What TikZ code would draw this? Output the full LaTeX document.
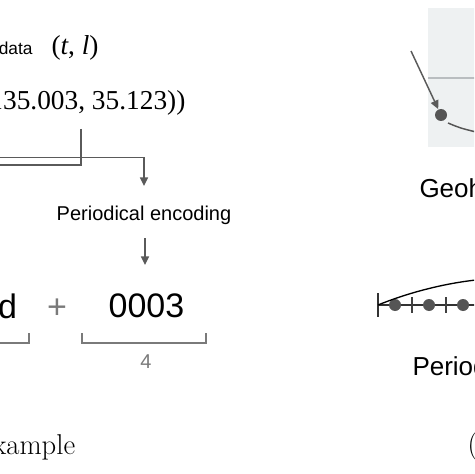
\documentclass[tikz,border=0pt]{standalone}
\usepackage{fontspec}
\newfontfamily\helv{Liberation Sans}
\newfontfamily\tms{Liberation Serif}
\usetikzlibrary{arrows.meta}

\definecolor{lineg}{HTML}{5A5A5A}
\definecolor{dotg}{HTML}{555555}
\definecolor{panelg}{HTML}{EEF1F2}
\definecolor{gridg}{HTML}{B9BDC0}
\definecolor{softg}{HTML}{7A7A7A}

\tikzset{every picture/.style={line width=0.75pt},
  conn/.style={draw=lineg, line width=1.1pt},
  arr/.style={conn, -{Triangle[length=6.5pt,width=6pt]}},
  brace/.style={draw=softg, line width=1.1pt},
  lbl/.style={inner sep=0pt, font=\helv\fontsize{15}{17}\selectfont},
  biglbl/.style={inner sep=0pt, font=\helv\fontsize{25.5}{28}\selectfont},
  sidelbl/.style={inner sep=0pt, font=\helv\fontsize{19.5}{22}\selectfont},
  mathlbl/.style={inner sep=0pt, font=\tms\fontsize{20.5}{23}\selectfont},
  caplbl/.style={inner sep=0pt, font=\fontsize{21.5}{24}\selectfont},
  pt/.style={circle, fill=dotg, inner sep=0pt, minimum size=9pt}}

\begin{document}
\begin{tikzpicture}[x=0.75pt,y=0.75pt,yscale=-1,xscale=1]
	\useasboundingbox (0,0) rectangle (474,474);
	\clip (0,0) rectangle (474,474);

	% Text Node
	\node (data) [lbl, anchor=base east, font=\helv\fontsize{13}{15}\selectfont] at (33,55) {data};
	% Text Node
	\node (tl) [mathlbl, anchor=base west] at (51,55) {(\textit{t}, \textit{l})};
	% Text Node
	\node (coords) [mathlbl, anchor=base west] at (-11,110) {135.003, 35.123))};

	%Straight Lines
	\coordinate (split) at (81,129);
	\coordinate (leftlo) at (0,165);
	\coordinate (lefthi) at (0,157.5);
	\coordinate (arr1end) at (144,186);
	\draw [conn] (split) |- (leftlo);
	\draw [arr] (lefthi) -| (arr1end);

	% Text Node
	\node (perenc) [lbl, anchor=base] at (144,220) {Periodical encoding};

	%Straight Lines
	\coordinate (arr2beg) at (145,238);
	\coordinate (arr2end) at (145,265);
	\draw [arr] (arr2beg) -- (arr2end);

	% Text Node
	\node (dtail) [biglbl, anchor=base east] at (17.5,318) {d};
	% Text Node
	\node (plus) [biglbl, anchor=base, text=softg] at (57,318) {+};
	% Text Node
	\node (code) [biglbl, anchor=base] at (146.5,317) {0003};

	%Shape: Brackets
	\draw [brace] (0,343) -- (29,343) -- (29,333);
	\draw [brace] (82,333) -- (82,343) -- (206,343) -- (206,333);
	% Text Node
	\node (len) [lbl, anchor=base, text=softg] at (146,368) {4};

	% Text Node
	\node (xample) [caplbl, anchor=base west] at (-8,454) {xample};

	%Shape: Rectangle
	\fill [panelg] (428,8) rectangle (476,147);
	\draw [gridg, line width=0.9pt] (428,78) -- (476,78);
	%Straight Lines
	\coordinate (pin) at (411,51);
	\node (cell) [pt] at (441,115) {};
	\draw [arr] (pin) -- (cell);
	\draw [conn, draw=dotg] (448,123) .. controls (460,128) .. (476,132);

	% Text Node
	\node (geoh) [sidelbl, anchor=base west] at (419,197) {Geoh};

	%Straight Lines
	\draw [draw=black!80, line width=1.1pt] (378,305) -- (476,305);
	\draw [draw=black!80, line width=1.1pt] (378,293) -- (378,317);
	\foreach \tx in {412,446}
		\draw [draw=black!75, line width=0.8pt] (\tx,297) -- (\tx,313);
	\foreach \dx/\dn in {395/p1,429/p2,463/p3}
		\node (\dn) [pt] at (\dx,305) {};
	\draw [line width=1pt] (378,305) .. controls (405,294) and (440,284) .. (476,280);

	% Text Node
	\node (period) [sidelbl, anchor=base west] at (412,375) {Period};
	% Text Node
	\node (capb) [caplbl, anchor=base west] at (467,453) {(};

\end{tikzpicture}
\end{document}
